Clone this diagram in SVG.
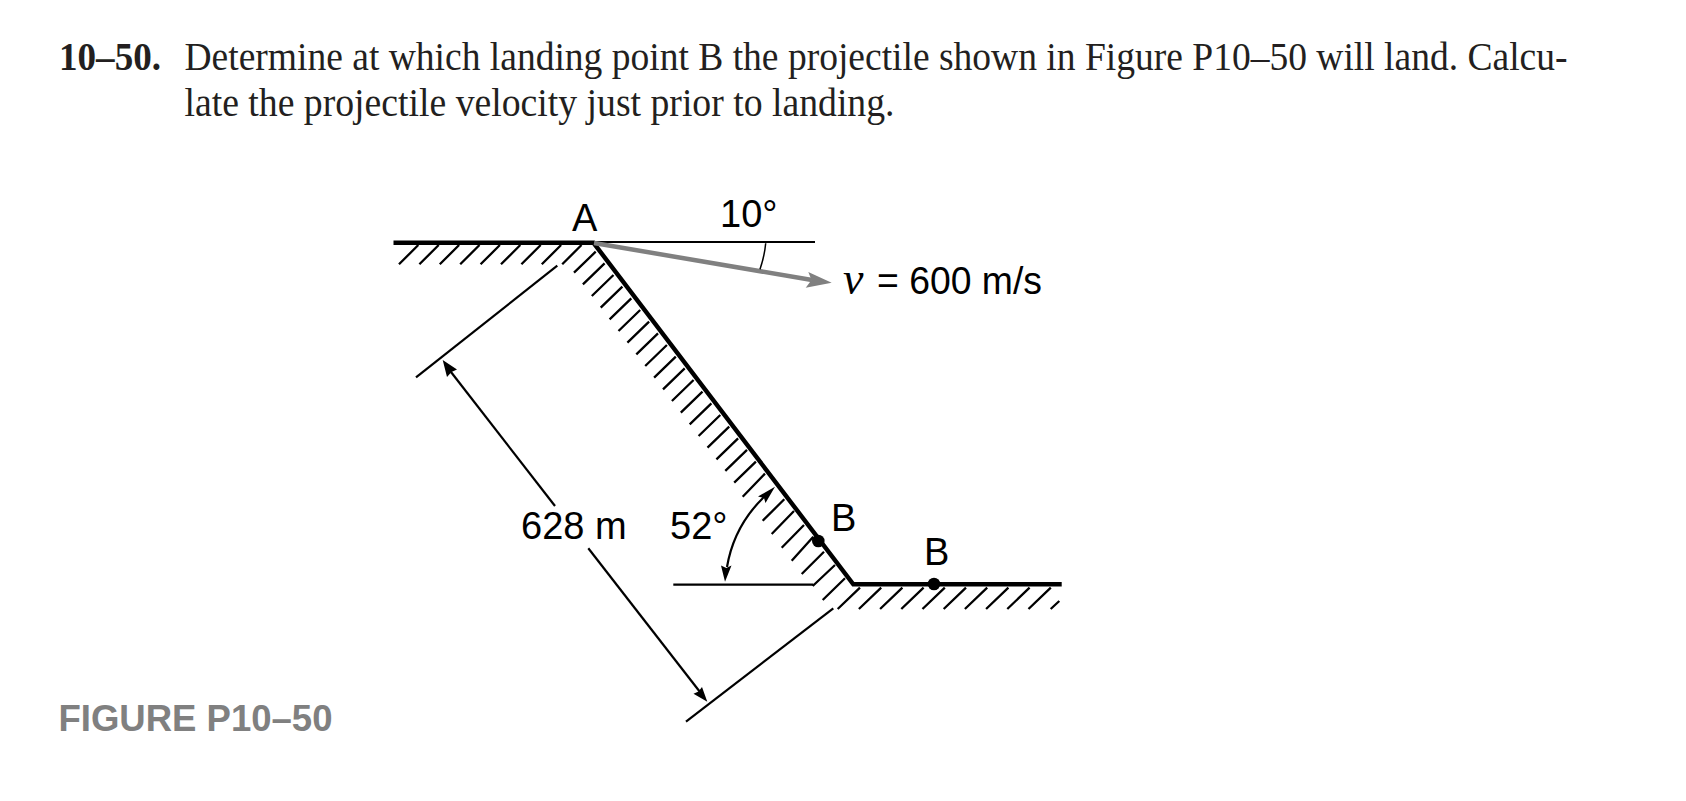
<svg xmlns="http://www.w3.org/2000/svg" width="1686" height="801" viewBox="0 0 1686 801">
<style>
.body{font-family:"Liberation Serif","Times New Roman",serif;font-size:39.5px;fill:#231f20}
.lab{font-family:"Liberation Sans",Arial,sans-serif;font-size:38px;fill:#000}
.cap{font-family:"Liberation Sans",Arial,sans-serif;font-size:37px;font-weight:700;fill:#808080}
.th{stroke:#000;stroke-width:4.4;fill:none;stroke-linecap:butt}
.tn{stroke:#000;stroke-width:2.2;fill:none}
.h{stroke:#000;stroke-width:2.3;fill:none}
</style>
<rect width="1686" height="801" fill="#fff"/>
<g id="problem-text">
<text class="body" x="59" y="70" font-weight="700" textLength="102" lengthAdjust="spacingAndGlyphs">10–50.</text>
<text class="body" x="184.5" y="70" textLength="1383" lengthAdjust="spacingAndGlyphs">Determine at which landing point B the projectile shown in Figure P10–50 will land. Calcu-</text>
<text class="body" x="184.5" y="115.5" textLength="710" lengthAdjust="spacingAndGlyphs">late the projectile velocity just prior to landing.</text>
</g>
<g id="ground-hatching" class="h">
<path class="h" d="M418.3 245L399 264.3M438.7 245L419.4 264.3M459.1 245L439.8 264.3M479.5 245L460.2 264.3M499.9 245L480.6 264.3M520.3 245L501 264.3M540.7 245L521.4 264.3M561.1 245L541.8 264.3M581.5 245L562.2 264.3"/>
<path class="h" d="M595.7 251.7L574 272.7M604.6 263.4L582.9 284.4M613.5 275L591.8 296M622.4 286.7L600.7 307.7M631.3 298.3L609.6 319.3M640.2 310L618.5 331M649.1 321.7L627.4 342.7M658 333.3L636.3 354.3M666.9 345L645.2 366M675.8 356.6L654.1 377.6M684.7 368.3L663 389.3M693.6 380L671.9 401M702.5 391.6L680.8 412.6M711.4 403.3L689.7 424.3M720.3 415L698.6 436M729.2 426.6L707.5 447.6M738.1 438.3L716.4 459.3M747 449.9L725.3 470.9M755.9 461.6L734.2 482.6M765 473.6L742.7 496.7"/>
<path class="h" d="M784.3 499.3L762.7 520.7M794 511L771.7 534M804 525L781.7 547.7M813.3 536.7L791.7 560.7M824 551.7L801.7 574M835 565L812.7 586M845 578.3L822.7 600"/>
<path class="h" d="M860 587.7L837.7 609M881.2 587.7L858.9 609M902.4 587.7L880.1 609M923.6 587.7L901.3 609M944.8 587.7L922.5 609M966 587.7L943.7 609M987.2 587.7L964.9 609M1008.4 587.7L986.1 609M1029.6 587.7L1007.3 609M1050.8 587.7L1028.5 609M1059.3 601L1050.7 609"/>
</g>
<g id="terrain">
<path class="th" d="M393.5 242.8H593.5L853.3 584.3H1061.7" stroke-linejoin="miter"/>
<path class="tn" d="M593 242H815"/>
<path class="tn" d="M673.3 584.7H813.3"/>
</g>
<g id="connectors">
<path class="tn" d="M557.3 265.7L416 377.3"/>
<path class="tn" d="M833.3 608.3L686 721.7"/>
<path class="tn" d="M555 506L451 372"/>
<path class="tn" d="M588.3 548.3L700 692"/>
<polygon points="442.7,360 457,369.5 451.5,372 447,377" fill="#000"/>
<polygon points="707.3,701.7 693.5,693.8 698.5,691.5 702,687" fill="#000"/>
<path class="tn" d="M727 567A127 127 0 0 1 764 497"/>
<polygon points="725,581.7 721,565.5 726.3,568 731.5,565.5" fill="#000"/>
<polygon points="775,486.7 758,496.5 764,498 765.5,503" fill="#000"/>
<path d="M594 243L812 280" stroke="#808080" stroke-width="4.5" fill="none"/>
<polygon points="831.7,282.7 808.3,272 811.5,280 805.7,287.8" fill="#808080"/>
<path d="M765.7 243.3Q764.5 256 760 269.3" stroke="#000" stroke-width="1.5" fill="none"/>
</g>
<g id="point-B-slope"><circle cx="818.3" cy="541" r="6.3" fill="#000"/></g>
<g id="point-B-ground"><circle cx="934" cy="584" r="6.3" fill="#000"/></g>
<g id="labels">
<text class="lab" x="572" y="230.5">A</text>
<text class="lab" x="720" y="227">10°</text>
<text x="843" y="294" font-family="'Liberation Serif',serif" font-style="italic" font-size="46">v</text>
<text class="lab" x="877" y="294" textLength="165" lengthAdjust="spacingAndGlyphs">= 600 m/s</text>
<text class="lab" x="521" y="539">628 m</text>
<text class="lab" x="670" y="539">52°</text>
<text class="lab" x="831" y="531">B</text>
<text class="lab" x="924" y="565">B</text>
</g>
<g id="caption"><text class="cap" x="58.5" y="730.5" textLength="274" lengthAdjust="spacingAndGlyphs">FIGURE P10–50</text></g>
</svg>
